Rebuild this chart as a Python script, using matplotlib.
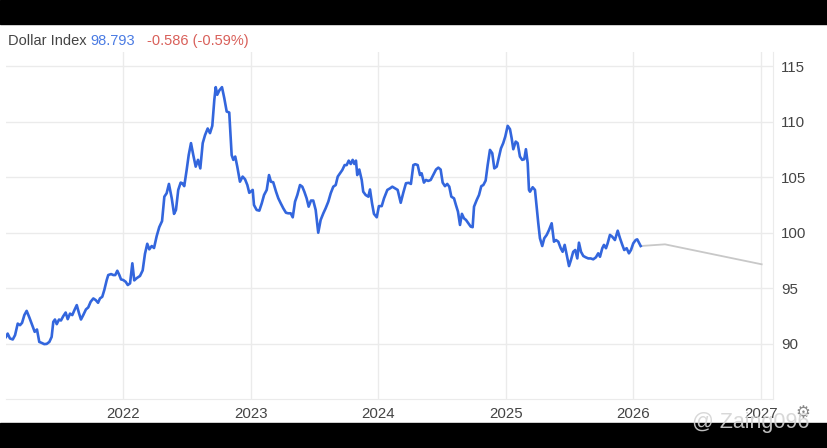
import numpy as np
import matplotlib.pyplot as plt
from matplotlib.patches import Rectangle

# weekly dollar index, x as decimal year
t_hist = [2021.080, 2021.093, 2021.111, 2021.133, 2021.151, 2021.172, 2021.190, 2021.206, 2021.224, 2021.242,
          2021.263, 2021.286, 2021.305, 2021.323, 2021.341, 2021.360, 2021.380, 2021.399, 2021.420, 2021.438,
          2021.451, 2021.464, 2021.478, 2021.496, 2021.511, 2021.529, 2021.548, 2021.564, 2021.582, 2021.600,
          2021.616, 2021.635, 2021.653, 2021.668, 2021.686, 2021.707, 2021.725, 2021.744, 2021.765, 2021.784,
          2021.802, 2021.817, 2021.835, 2021.851, 2021.870, 2021.882, 2021.904, 2021.922, 2021.937, 2021.953,
          2021.969, 2021.982, 2022.000, 2022.019, 2022.035, 2022.053, 2022.071, 2022.086, 2022.105,
          2022.131, 2022.152, 2022.170, 2022.188, 2022.204, 2022.223, 2022.241, 2022.262, 2022.282, 2022.304,
          2022.322, 2022.340, 2022.358, 2022.380, 2022.398, 2022.413, 2022.431, 2022.450, 2022.463, 2022.478,
          2022.497, 2022.513, 2022.531, 2022.549, 2022.568, 2022.586, 2022.604, 2022.623, 2022.641, 2022.662,
          2022.680, 2022.698, 2022.714, 2022.725, 2022.737, 2022.753, 2022.774, 2022.792, 2022.811, 2022.831,
          2022.850, 2022.863, 2022.878, 2022.894, 2022.915, 2022.936, 2022.955, 2022.973, 2022.988,
          2023.015, 2023.025, 2023.046, 2023.067, 2023.086, 2023.104, 2023.125, 2023.143, 2023.158, 2023.176,
          2023.198, 2023.216, 2023.235, 2023.255, 2023.276, 2023.294, 2023.313, 2023.329, 2023.347, 2023.365,
          2023.386, 2023.404, 2023.420, 2023.438, 2023.454, 2023.472, 2023.490, 2023.509, 2023.529, 2023.548,
          2023.569, 2023.587, 2023.608, 2023.627, 2023.647, 2023.666, 2023.682, 2023.700, 2023.718, 2023.736,
          2023.752, 2023.768, 2023.784, 2023.799, 2023.812, 2023.825, 2023.835, 2023.851, 2023.870, 2023.882,
          2023.901, 2023.922, 2023.935, 2023.951, 2023.966, 2023.988,
          2024.005, 2024.027, 2024.045, 2024.071, 2024.092, 2024.110, 2024.131, 2024.152, 2024.176, 2024.196,
          2024.217, 2024.238, 2024.256, 2024.275, 2024.290, 2024.309, 2024.327, 2024.340, 2024.358, 2024.374,
          2024.392, 2024.411, 2024.431, 2024.453, 2024.471, 2024.489, 2024.505, 2024.523, 2024.541, 2024.557,
          2024.573, 2024.594, 2024.609, 2024.625, 2024.641, 2024.656, 2024.672, 2024.688, 2024.706, 2024.725,
          2024.740, 2024.751, 2024.772, 2024.790, 2024.808, 2024.824, 2024.842, 2024.858, 2024.876, 2024.894,
          2024.910, 2024.929, 2024.947, 2024.962, 2024.980, 2024.996,
          2025.015, 2025.033, 2025.046, 2025.059, 2025.078, 2025.093, 2025.111, 2025.129, 2025.145, 2025.158,
          2025.172, 2025.182, 2025.190, 2025.211, 2025.229, 2025.242, 2025.255, 2025.268, 2025.286, 2025.302,
          2025.321, 2025.339, 2025.360, 2025.378, 2025.394, 2025.412, 2025.431, 2025.446, 2025.462, 2025.478,
          2025.496, 2025.511, 2025.529, 2025.545, 2025.561, 2025.574, 2025.590, 2025.608, 2025.627, 2025.647,
          2025.666, 2025.686, 2025.707, 2025.725, 2025.739, 2025.757, 2025.770, 2025.786, 2025.799, 2025.817,
          2025.835, 2025.856, 2025.878, 2025.896, 2025.914, 2025.929, 2025.948, 2025.966, 2025.982,
          2026.000, 2026.019, 2026.031, 2026.047, 2026.058]

dxy_hist = [90.6, 90.9, 90.46, 90.37, 90.76, 91.8, 91.66, 91.87, 92.57, 92.95,
            92.36, 91.66, 91.06, 91.27, 90.15, 90.06, 89.95, 89.97, 90.15, 90.6,
            91.96, 92.17, 91.75, 92.17, 92.08, 92.47, 92.8, 92.2, 92.7, 92.57,
            93.0, 93.47, 92.72, 92.17, 92.57, 93.08, 93.26, 93.77, 94.07, 93.92,
            93.68, 94.07, 94.22, 94.83, 95.73, 96.18, 96.27, 96.18, 96.18, 96.57,
            96.18, 95.79, 95.73, 95.57, 95.28, 95.43, 97.24, 95.7, 95.9,
            96.1, 96.6, 98.1, 99.0, 98.5, 98.8, 98.62, 99.7, 100.5, 101.05,
            103.25, 103.56, 104.4, 103.1, 101.7, 102.05, 103.86, 104.52, 104.46, 104.2,
            105.66, 107.0, 108.08, 107.0, 105.96, 106.57, 105.8, 108.08, 108.8, 109.4,
            108.98, 109.64, 111.99, 113.13, 112.44, 112.83, 113.13, 112.14, 110.93, 110.84,
            107.0, 106.57, 106.87, 105.96, 104.6, 105.06, 104.82, 104.3, 103.6,
            103.86, 102.5, 102.05, 101.99, 102.65, 103.4, 103.86, 105.2, 104.6, 104.55,
            103.7, 103.1, 102.65, 102.2, 101.8, 101.75, 101.75, 101.39, 102.8, 103.4,
            104.3, 104.15, 103.7, 103.1, 102.35, 102.9, 102.9, 102.05, 100.0, 101.15,
            101.75, 102.2, 102.8, 103.56, 104.15, 104.3, 105.06, 105.36, 105.66, 106.1,
            106.1, 106.5, 106.2, 106.57, 106.2, 106.5, 105.2, 105.7, 104.76, 103.7,
            103.4, 103.25, 103.9, 102.65, 101.7, 101.39,
            102.4, 102.4, 103.1, 103.86, 104.0, 104.15, 104.0, 103.86, 102.7, 103.6,
            104.46, 104.5, 104.4, 106.1, 106.18, 106.1, 105.2, 105.36, 104.52, 104.76,
            104.67, 104.76, 105.2, 105.7, 105.87, 105.7, 104.52, 104.2, 104.4, 104.15,
            103.25, 103.1, 102.5, 101.9, 100.7, 101.7, 101.3, 101.15, 100.85, 100.55,
            100.5, 102.35, 102.95, 103.4, 104.2, 104.3, 104.7, 106.1, 107.47, 107.17,
            105.8, 105.96, 106.87, 107.6, 108.08, 108.67,
            109.64, 109.34, 108.53, 107.53, 108.22, 108.08, 106.87, 106.57, 106.63, 107.53,
            106.27, 103.86, 103.7, 104.1, 103.86, 102.35, 100.85, 99.5, 98.8, 99.5,
            99.8, 100.24, 100.85, 99.19, 99.34, 99.19, 98.6, 98.28, 98.9, 97.99,
            96.99, 97.53, 98.28, 98.44, 97.68, 99.1, 98.28, 97.9, 97.78, 97.68,
            97.68, 97.6, 97.78, 98.14, 97.83, 98.6, 98.9, 98.6, 99.04, 99.8,
            99.64, 99.34, 100.18, 99.5, 98.9, 98.44, 98.6, 98.14, 98.44,
            99.04, 99.34, 99.4, 99.04, 98.8]

# forecast segment (grey)
t_fc = [2026.058, 2026.249, 2027.007]
dxy_fc = [98.8, 98.95, 97.15]

years = [2022, 2023, 2024, 2025, 2026, 2027]
yticks = [90, 95, 100, 105, 110, 115]

fig = plt.figure(figsize=(8.28, 4.48), dpi=100)
fig.patch.set_facecolor('white')
ax = fig.add_axes([6/828, 49/448, 767/828, 347/448])

grid_c = '#ebebeb'
for y in yticks:
    ax.axhline(y, color=grid_c, lw=1, zorder=0)
for yr in years:
    ax.axvline(yr, color=grid_c, lw=1, zorder=0)

ax.plot(t_fc, dxy_fc, color='#c8c8c8', lw=1.3, zorder=2)
ax.plot(t_hist, dxy_hist, color='#3366dd', lw=1.9, zorder=3, solid_joinstyle='round')

ax.set_xlim(2021.080, 2027.096)
ax.set_ylim(85, 116.3)

for s in ['top', 'left']:
    ax.spines[s].set_visible(False)
ax.spines['right'].set_color(grid_c)
ax.spines['bottom'].set_color(grid_c)

ax.yaxis.tick_right()
ax.set_yticks(yticks)
ax.set_yticklabels([str(v) for v in yticks])
ax.set_xticks(years)
ax.set_xticklabels([str(v) for v in years])
ax.tick_params(axis='both', length=0, labelsize=10.8, colors='#444444')
ax.tick_params(axis='y', pad=6)
ax.tick_params(axis='x', pad=6)
for lab in ax.get_yticklabels() + ax.get_xticklabels():
    lab.set_fontfamily('Liberation Sans')

# header text
ty = 1 - 41/448
fig.text(8/828, ty, 'Dollar Index', color='#444444', fontsize=10.5, va='center', family='Liberation Sans')
fig.text(90/828, ty, '98.793', color='#4a7be3', fontsize=10.5, va='center', family='Liberation Sans')
fig.text(147/828, ty, '-0.586 (-0.59%)', color='#d9605a', fontsize=10.5, va='center', family='Liberation Sans')

# black bars at top and bottom of the screenshot
fig.patches.append(Rectangle((0, 1 - 24/448), 1, 24/448, transform=fig.transFigure, color='black', zorder=-1))
fig.patches.append(Rectangle((0, 0), 1, 25/448, transform=fig.transFigure, color='black', zorder=-1))

# gear icon and watermark
fig.text(803/828, 1 - 413/448, '\u2699', color='#888888', fontsize=12, ha='center', va='center', family='DejaVu Sans')
fig.text(692/828, 1 - 422/448, '@ Zaing096', color='#d4d4d4', fontsize=15.5, va='center',
         family='Liberation Sans', alpha=0.9)

fig.savefig('out.png', dpi=100)
